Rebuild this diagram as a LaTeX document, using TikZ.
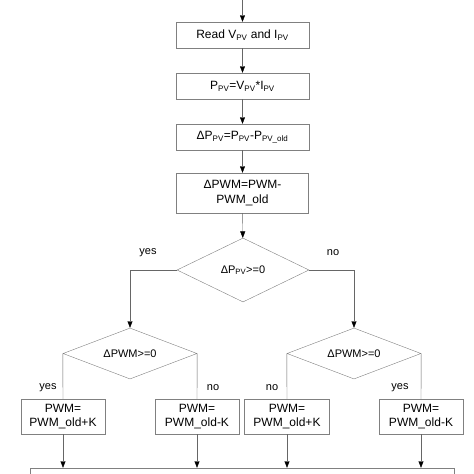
\documentclass[tikz,border=0pt]{standalone}
\usepackage{fontspec}
\setmainfont{Liberation Sans}
\usetikzlibrary{shapes.geometric,arrows.meta}
\tikzset{
	box/.style={draw=black!50, rectangle, align=center, inner sep=0pt, font=\fontsize{12}{14.5}\selectfont},
	cond/.style={draw=black!50, diamond, aspect=2, inner sep=0pt, font=\fontsize{11}{13}\selectfont},
	flow/.style={draw=black!60, -{Triangle[width=5pt,length=6.5pt,black]}},
	link/.style={draw=black!60},
	lbl/.style={font=\fontsize{11}{13}\selectfont}
}
\newcommand{\pv}{\textsubscript{PV}}
\begin{document}
\begin{tikzpicture}[x=1pt,y=-1pt]
	\useasboundingbox (0,0) rectangle (474,474);
	\clip (0,0) rectangle (474,474);
	\coordinate (start) at (242.5,0);
	\node[box, minimum width=133pt, minimum height=26pt] (read) at (242.5,35) {Read V\pv{} and I\pv};
	\node[box, minimum width=133pt, minimum height=26pt] (ppv) at (242.5,86) {P\pv=V\pv*I\pv};
	\node[box, minimum width=133pt, minimum height=26pt] (dppv) at (242.5,137) {ΔP\pv=P\pv-P\textsubscript{PV\_old}};
	\node[box, minimum width=132pt, minimum height=40pt] (dpwm) at (242.5,193) {ΔPWM=PWM-\\PWM\_old};
	\node[cond, minimum width=132pt, minimum height=64pt] (dec) at (243,270) {ΔP\pv>=0};
	\node[cond, minimum width=134pt, minimum height=51pt] (decL) at (130,353.5) {ΔPWM>=0};
	\node[cond, minimum width=134pt, minimum height=51pt] (decR) at (354,353.5) {ΔPWM>=0};
	\node[box, minimum width=84pt, minimum height=35pt] (incL) at (63,416.5) {PWM=\\PWM\_old+K};
	\node[box, minimum width=84pt, minimum height=35pt] (decrL) at (197,416.5) {PWM=\\PWM\_old-K};
	\node[box, minimum width=85pt, minimum height=35pt] (incR) at (287,416.5) {PWM=\\PWM\_old+K};
	\node[box, minimum width=84pt, minimum height=35pt] (decrR) at (421,416.5) {PWM=\\PWM\_old-K};
	\node[box, minimum width=424pt, minimum height=30pt] (update) at (242,483) {};
	% labels
	\node[lbl] (yes1) at (148,253) {yes};
	\node[lbl] (no1) at (333,253) {no};
	\node[lbl] (yes2) at (48,388) {yes};
	\node[lbl] (no2) at (213,388) {no};
	\node[lbl] (no3) at (272,388) {no};
	\node[lbl] (yes3) at (400,388) {yes};
	% connectors
	\draw[flow] (start) -- (read);
	\draw[flow] (read) -- (ppv);
	\draw[flow] (ppv) -- (dppv);
	\draw[flow] (dppv) -- (dpwm);
	\draw[flow] (dpwm) -- (dec);
	\draw[flow] (dec.west) -| (decL.north);
	\draw[flow] (dec.east) -| (decR.north);
	\draw[link] (decL.west) -- (incL.north);
	\draw[link] (decL.east) -- (decrL.north);
	\draw[link] (decR.west) -- (incR.north);
	\draw[link] (decR.east) -- (decrR.north);
	\foreach \b in {incL,decrL,incR,decrR}
		\draw[flow] (\b.south) -- (\b.south |- update.north);
\end{tikzpicture}
\end{document}
